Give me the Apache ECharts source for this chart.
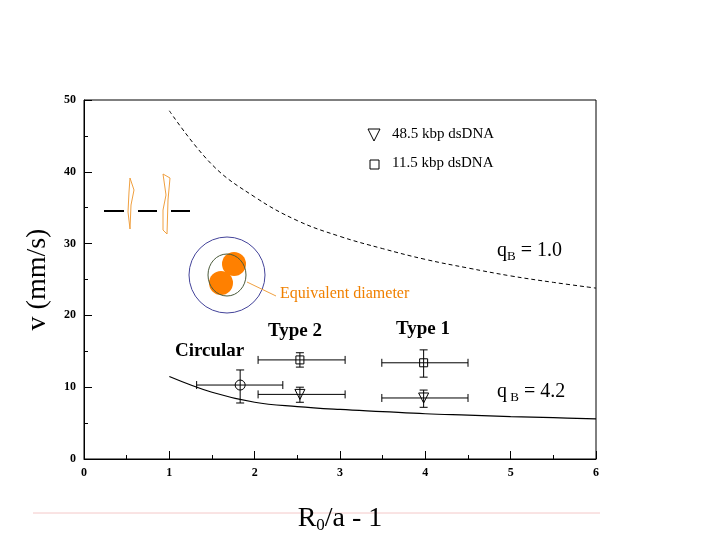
<!DOCTYPE html>
<html>
<head>
<meta charset="utf-8">
<script src="https://cdn.jsdelivr.net/npm/echarts@6/dist/echarts.min.js"></script>
<style>html,body{margin:0;background:#fff}#c{width:720px;height:540px}</style>
</head>
<body>
<div id="c"></div>
<script>
// theory curves
var curveX = [1, 1.5, 2, 2.5, 3, 3.5, 4, 4.5, 5, 5.5, 6];
var qB1 = [48.5, 41, 36.5, 33.2, 31, 29.3, 27.8, 26.6, 25.5, 24.6, 23.8];
var qB42 = [11.5, 9.3, 7.9, 7.3, 6.9, 6.6, 6.3, 6.1, 5.9, 5.75, 5.6];

// measured points: [x, y, xlo, xhi, ylo, yhi, marker]
var circular = [[1.83, 10.3, 1.32, 2.33, 7.8, 12.4, 'circle']];
var dna115 = [[2.53, 13.8, 2.04, 3.06, 12.8, 14.8, 'square'],
              [3.98, 13.4, 3.49, 4.5, 11.4, 15.2, 'square']];
var dna485 = [[2.53, 9.0, 2.04, 3.06, 7.9, 10.0, 'tri'],
              [3.98, 8.5, 3.49, 4.5, 7.2, 9.6, 'tri']];

var chart = echarts.init(document.getElementById('c'));
var font = 'Liberation Serif';

function errRender(params, api) {
  var p = api.coord([api.value(0), api.value(1)]);
  var xl = api.coord([api.value(2), api.value(1)]);
  var xh = api.coord([api.value(3), api.value(1)]);
  var yl = api.coord([api.value(0), api.value(4)]);
  var yh = api.coord([api.value(0), api.value(5)]);
  var st = {stroke: '#000', lineWidth: 1, fill: null};
  var c = 4, r = 5;
  var kids = [
    {type: 'line', shape: {x1: xl[0], y1: p[1], x2: xh[0], y2: p[1]}, style: st},
    {type: 'line', shape: {x1: xl[0], y1: p[1] - c, x2: xl[0], y2: p[1] + c}, style: st},
    {type: 'line', shape: {x1: xh[0], y1: p[1] - c, x2: xh[0], y2: p[1] + c}, style: st},
    {type: 'line', shape: {x1: p[0], y1: yl[1], x2: p[0], y2: yh[1]}, style: st},
    {type: 'line', shape: {x1: p[0] - c, y1: yl[1], x2: p[0] + c, y2: yl[1]}, style: st},
    {type: 'line', shape: {x1: p[0] - c, y1: yh[1], x2: p[0] + c, y2: yh[1]}, style: st}
  ];
  var m = api.value(6);
  if (m === 'circle') kids.push({type: 'circle', shape: {cx: p[0], cy: p[1], r: r}, style: st});
  else if (m === 'square') kids.push({type: 'rect', shape: {x: p[0] - 4, y: p[1] - 4, width: 8, height: 8}, style: st});
  else kids.push({type: 'polygon', shape: {points: [[p[0] - 5, p[1] - 5], [p[0] + 5, p[1] - 5], [p[0], p[1] + 5]]}, style: st});
  return {type: 'group', children: kids};
}

function txt(x, y, t, size, opts) {
  return {type: 'text', left: x, top: y,
    style: {text: t, font: (opts && opts.bold ? 'bold ' : '') + size + 'px "' + font + '"', fill: (opts && opts.color) || '#000'}};
}

var option = {
  animation: false,
  backgroundColor: '#fff',
  grid: {left: 84, right: 124, top: 100, bottom: 81},
  xAxis: {
    type: 'value', min: 0, max: 6, interval: 1,
    axisLine: {lineStyle: {color: '#000'}},
    axisTick: {inside: true, length: 8, lineStyle: {color: '#000'}},
    minorTick: {show: true, splitNumber: 2, length: 4, lineStyle: {color: '#000'}},
    axisLabel: {color: '#000', fontFamily: font, fontSize: 12, fontWeight: 'bold'},
    splitLine: {show: false},
    name: '{a|R}{s|0}{a|/a - 1}', nameLocation: 'middle', nameGap: 44,
    nameTextStyle: {rich: {a: {fontFamily: font, fontSize: 28, color: '#000'},
      s: {fontFamily: font, fontSize: 17, color: '#000', verticalAlign: 'bottom', padding: [14, 0, 0, 0]}}}
  },
  yAxis: {
    type: 'value', min: 0, max: 50, interval: 10,
    axisLine: {lineStyle: {color: '#000'}},
    axisTick: {inside: true, length: 8, lineStyle: {color: '#000'}},
    minorTick: {show: true, splitNumber: 2, length: 4, lineStyle: {color: '#000'}},
    axisLabel: {color: '#000', fontFamily: font, fontSize: 12, fontWeight: 'bold'},
    splitLine: {show: false},
    name: 'v (mm/s)', nameLocation: 'middle', nameGap: 32,
    nameTextStyle: {fontFamily: font, fontSize: 28, color: '#000'}
  },
  graphic: [
    {type: 'rect', shape: {x: 84, y: 100, width: 512, height: 359}, style: {fill: null, stroke: '#000', lineWidth: 1}, silent: true},
    {type: 'line', shape: {x1: 33, y1: 513, x2: 600, y2: 513}, style: {stroke: '#f4c8c8', lineWidth: 1}},
    // legend
    {type: 'polygon', shape: {points: [[368, 129], [380, 129], [374, 141]]}, style: {fill: null, stroke: '#000'}},
    txt(392, 127, '48.5 kbp dsDNA', 15),
    {type: 'rect', shape: {x: 370, y: 160, width: 9, height: 9}, style: {fill: null, stroke: '#000'}},
    txt(392, 156, '11.5 kbp dsDNA', 15),
    // labels
    {type: 'text', left: 497, top: 241, style: {rich: {a: {font: '20px "' + font + '"'}, s: {font: '13px "' + font + '"', padding: [12, 0, 0, 0]}}, text: '{a|q}{s|B}{a| = 1.0}'}},
    {type: 'text', left: 497, top: 382, style: {rich: {a: {font: '20px "' + font + '"'}, s: {font: '13px "' + font + '"', padding: [12, 0, 0, 0]}}, text: '{a|q}{s| B}{a| = 4.2}'}},
    txt(175, 342, 'Circular', 19, {bold: true}),
    txt(268, 322, 'Type 2', 19, {bold: true}),
    txt(396, 320, 'Type 1', 19, {bold: true}),
    // illustrations
    {type: 'line', shape: {x1: 104, y1: 211, x2: 124, y2: 211}, style: {stroke: '#000', lineWidth: 2}},
    {type: 'line', shape: {x1: 138, y1: 211, x2: 157, y2: 211}, style: {stroke: '#000', lineWidth: 2}},
    {type: 'line', shape: {x1: 171, y1: 211, x2: 190, y2: 211}, style: {stroke: '#000', lineWidth: 2}},
    {type: 'polyline', shape: {points: [[130, 178], [134, 190], [131, 205], [130, 229], [128, 212], [129, 192], [130, 178]]}, style: {stroke: '#f0a040', fill: null, lineWidth: 1}},
    {type: 'polyline', shape: {points: [[163, 174], [170, 178], [168, 200], [167, 234], [163, 230], [163, 210], [166, 195], [163, 174]]}, style: {stroke: '#f0a040', fill: null, lineWidth: 1}},
    {type: 'circle', shape: {cx: 227, cy: 275, r: 38}, style: {fill: null, stroke: '#44449a', lineWidth: 1}},
    {type: 'circle', shape: {cx: 221, cy: 283, r: 12}, style: {fill: '#ff8000'}},
    {type: 'circle', shape: {cx: 234, cy: 264, r: 12}, style: {fill: '#ff8000'}},
    {type: 'ellipse', shape: {cx: 227, cy: 275, rx: 19, ry: 21}, style: {fill: null, stroke: '#4a5a3a', lineWidth: 1}},
    {type: 'line', shape: {x1: 247, y1: 282, x2: 276, y2: 296}, style: {stroke: '#f0a040', lineWidth: 1}},
    txt(280, 286, 'Equivalent diameter', 16, {color: '#f08000'})
  ],
  series: [
    {type: 'line', data: curveX.map(function (x, i) { return [x, qB1[i]]; }), smooth: 0.4, symbol: 'none',
      lineStyle: {color: '#000', width: 1, type: [4, 3]}},
    {type: 'line', data: curveX.map(function (x, i) { return [x, qB42[i]]; }), smooth: 0.4, symbol: 'none',
      lineStyle: {color: '#000', width: 1.2}},
    {type: 'custom', renderItem: errRender, data: circular, encode: {x: 0, y: 1}},
    {type: 'custom', renderItem: errRender, data: dna115, encode: {x: 0, y: 1}},
    {type: 'custom', renderItem: errRender, data: dna485, encode: {x: 0, y: 1}}
  ]
};
chart.setOption(option);
</script>
</body>
</html>
